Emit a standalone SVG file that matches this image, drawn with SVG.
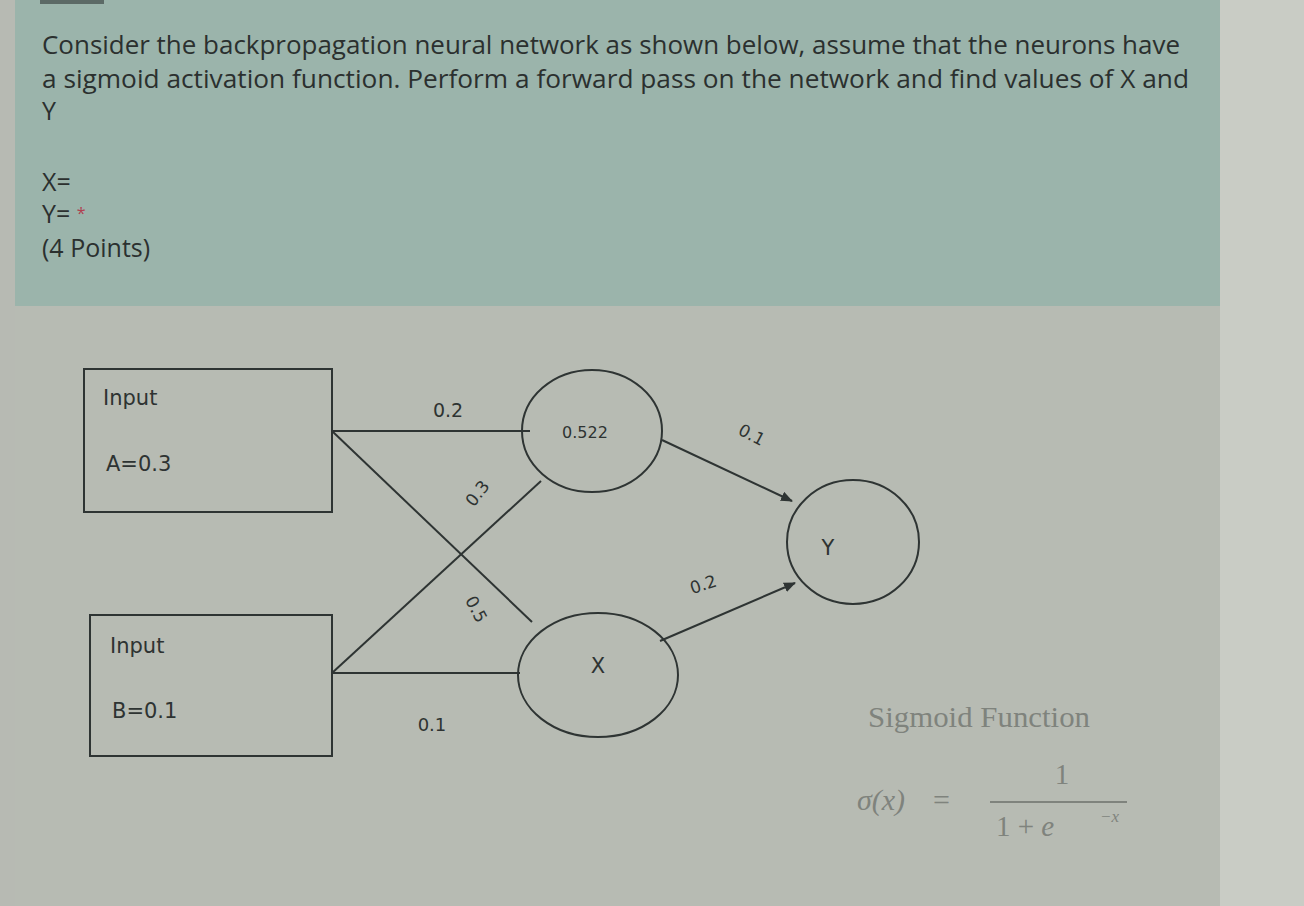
<svg xmlns="http://www.w3.org/2000/svg" width="1304" height="906" viewBox="0 0 1304 906">
<defs>
<style>
.q{font-family:"Open Sans","Noto Sans",sans-serif;font-size:25px;fill:#2b302f}
.d{font-family:"DejaVu Sans","Liberation Sans",sans-serif;fill:#2e3332}
.ln{stroke:#2e3433;stroke-width:2;fill:none}
.nd{stroke:#2e3433;stroke-width:2;fill:none}
.s{font-family:"Liberation Serif","DejaVu Serif",serif;fill:#7f837d}
</style>
<marker id="ah" markerWidth="12" markerHeight="10" refX="11" refY="5" orient="auto" markerUnits="userSpaceOnUse">
<path d="M0,0 L12,5 L0,10 Z" fill="#2e3433"/>
</marker>
</defs>
<rect x="0" y="0" width="1304" height="906" fill="#b7bab3"/>
<rect x="1220" y="0" width="84" height="906" fill="#c9ccc5"/>
<rect x="15" y="0" width="1205" height="306" fill="#9bb4ab"/>
<rect x="15" y="306" width="1205" height="600" fill="#b7bbb3"/>
<rect x="40" y="0" width="64" height="4" fill="#5c6a66"/>

<g id="question">
<text class="q" x="42" y="54" textLength="1138" lengthAdjust="spacingAndGlyphs">Consider the backpropagation neural network as shown below, assume that the neurons have</text>
<text class="q" x="42" y="88" textLength="1147" lengthAdjust="spacingAndGlyphs">a sigmoid activation function. Perform a forward pass on the network and find  values of X and</text>
<text class="q" x="42" y="120">Y</text>
<text class="q" x="42" y="191" font-size="22">X=</text>
<text class="q" x="42" y="223" font-size="22">Y= <tspan fill="#b04050" font-size="16" dy="-4">*</tspan></text>
<text class="q" x="42" y="257" font-size="22">(4 Points)</text>
</g>

<g id="connectors">
<line class="ln" x1="332" y1="431" x2="530" y2="431"/>
<line class="ln" x1="332" y1="431" x2="532" y2="622"/>
<line class="ln" x1="332" y1="673" x2="541" y2="481"/>
<line class="ln" x1="332" y1="673" x2="520" y2="673"/>
<line class="ln" x1="662" y1="440" x2="792" y2="501" marker-end="url(#ah)"/>
<line class="ln" x1="660" y1="641" x2="795" y2="583" marker-end="url(#ah)"/>
<text class="d" x="448" y="417" font-size="19" text-anchor="middle">0.2</text>
<text class="d" x="0" y="0" font-size="17" text-anchor="middle" transform="translate(482,497) rotate(-52)">0.3</text>
<text class="d" x="0" y="0" font-size="17" text-anchor="middle" transform="translate(471,612) rotate(62)">0.5</text>
<text class="d" x="432" y="731" font-size="18" text-anchor="middle">0.1</text>
<text class="d" x="0" y="0" font-size="17" text-anchor="middle" transform="translate(749,440) rotate(28)">0.1</text>
<text class="d" x="0" y="0" font-size="17" text-anchor="middle" transform="translate(705,590) rotate(-18)">0.2</text>
</g>

<g id="inputA">
<rect class="nd" x="84" y="369" width="248" height="143"/>
<text class="d" x="103" y="405" font-size="21">Input</text>
<text class="d" x="106" y="471" font-size="21">A=0.3</text>
</g>
<g id="inputB">
<rect class="nd" x="90" y="615" width="242" height="141"/>
<text class="d" x="110" y="653" font-size="21">Input</text>
<text class="d" x="112" y="718" font-size="21">B=0.1</text>
</g>
<g id="hidden1">
<ellipse class="nd" cx="592" cy="431" rx="70" ry="61"/>
<text class="d" x="585" y="438" font-size="16" text-anchor="middle">0.522</text>
</g>
<g id="hiddenX">
<ellipse class="nd" cx="598" cy="675" rx="80" ry="62"/>
<text class="d" x="598" y="673" font-size="21" text-anchor="middle">X</text>
</g>
<g id="outputY">
<ellipse class="nd" cx="853" cy="542" rx="66" ry="62"/>
<text class="d" x="828" y="555" font-size="21" text-anchor="middle">Y</text>
</g>

<g id="sigmoid">
<text class="s" x="868" y="727" font-size="29" textLength="222" lengthAdjust="spacingAndGlyphs">Sigmoid Function</text>
<text class="s" x="857" y="810" font-size="30" font-style="italic">σ(x)</text>
<text class="s" x="933" y="810" font-size="30">=</text>
<line x1="990" y1="802" x2="1127" y2="802" stroke="#7f837d" stroke-width="2"/>
<text class="s" x="1062" y="784" font-size="29" text-anchor="middle">1</text>
<text class="s" x="996" y="836" font-size="29">1 + <tspan font-style="italic">e</tspan></text>
<text class="s" x="1100" y="822" font-size="17" font-style="italic">−x</text>
</g>
</svg>
